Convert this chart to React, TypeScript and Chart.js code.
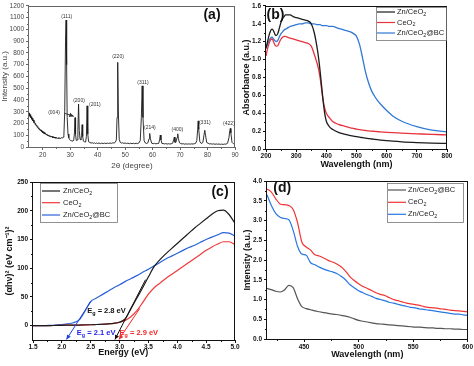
import React, { useEffect, useRef } from "react";
import { Chart, registerables } from "chart.js";

Chart.register(...registerables);

const FONT = "'Liberation Sans', Arial, Helvetica, sans-serif";

// ---------------- (a) XRD pattern ----------------
const xrdScan: [number, number][] = [
  [15.0,290],[15.2,262],[15.4,275],[15.6,250],[15.8,258],[16.0,236],[16.2,244],[16.4,222],[16.6,230],[16.8,208],
  [17.0,214],[17.2,192],[17.4,200],[17.6,180],[17.8,186],[18.0,168],[18.2,174],[18.4,156],[18.6,163],[18.8,146],
  [19.0,152],[19.2,138],[19.4,145],[19.6,130],[19.8,136],[20.0,122],[20.2,129],[20.4,116],[20.6,122],[20.8,110],
  [21.0,116],[21.2,104],[21.4,111],[21.6,99],[21.8,105],[22.0,95],[22.2,101],[22.4,90],[22.6,97],[22.8,87],
  [23.0,93],[23.2,84],[23.4,90],[23.6,80],[23.8,87],[24.0,78],[24.2,84],[24.4,76],[24.6,82],[24.8,74],
  [25.0,80],[25.3,72],[25.6,79],[25.9,71],[26.2,78],[26.5,72],[26.8,80],[27.1,74],[27.4,84],[27.7,100],
  [28.0,300],[28.3,900],[28.5,1080],[28.7,700],[28.9,250],[29.2,110],[29.5,78],[29.8,62],[30.2,55],[30.6,52],
  [31.0,50],[31.3,60],[31.55,120],[31.75,250],[31.95,110],[32.2,55],[32.5,60],[32.8,150],[33.05,365],[33.3,140],
  [33.6,65],[33.9,60],[34.15,100],[34.35,190],[34.55,90],[34.8,50],[35.2,45],[35.6,42],[35.9,90],[36.15,350],
  [36.4,110],[36.7,45],[37.2,38],[37.6,33],[38.0,37],[38.4,31],[38.8,35],[39.2,30],[39.6,34],[40.0,30],
  [40.5,34],[41.0,29],[41.5,33],[42.0,29],[42.5,33],[43.0,29],[43.5,33],[44.0,30],[44.5,34],[45.0,31],
  [45.5,35],[46.0,34],[46.4,40],[46.8,60],[47.05,250],[47.3,720],[47.55,280],[47.85,65],[48.2,40],[48.6,33],
  [49.0,36],[49.5,31],[50.0,34],[50.5,29],[51.0,33],[51.5,28],[52.0,32],[52.5,28],[53.0,32],[53.5,28],
  [54.0,32],[54.5,29],[55.0,34],[55.5,55],[55.9,250],[56.2,520],[56.5,250],[56.9,55],[57.3,35],[57.8,30],
  [58.3,36],[58.7,70],[58.95,115],[59.2,70],[59.7,32],[60.2,28],[60.7,31],[61.2,27],[61.7,30],[62.2,30],
  [62.55,60],[62.8,102],[63.05,60],[63.4,30],[63.8,30],[64.3,26],[64.8,29],[65.3,25],[65.8,28],[66.3,25],
  [66.8,28],[67.3,32],[67.65,60],[67.9,84],[68.15,40],[68.5,40],[68.9,80],[69.15,112],[69.4,70],[69.8,35],
  [70.2,30],[70.7,26],[71.2,28],[71.7,24],[72.2,27],[72.7,24],[73.2,27],[73.7,24],[74.2,27],[74.7,25],
  [75.2,28],[75.7,32],[76.1,55],[76.4,150],[76.6,222],[76.8,150],[77.2,45],[77.7,30],[78.3,38],[78.7,100],
  [79.0,142],[79.3,95],[79.7,38],[80.2,32],[80.7,26],[81.2,28],[81.7,24],[82.2,27],[82.7,23],[83.2,26],
  [83.7,23],[84.2,26],[84.7,22],[85.2,25],[85.7,22],[86.2,25],[86.7,24],[87.3,32],[87.8,80],[88.1,140],
  [88.3,158],[88.5,120],[88.9,40],[89.4,28],[90.0,26],
];
const xrdPeakLabels = ["(111)", "(004)", "(200)", "(201)", "(220)", "(311)", "(214)", "(400)", "(331)", "(422)"];
const xrdPeakLabelAngle = [28.7, 24.1, 33.2, 39.0, 47.4, 56.5, 59.0, 69.0, 79.0, 87.8];
const xrdPeakLabelHeight = [1108, 294, 392, 364, 767, 550, 164, 147, 206, 197];
const xrdTicksX = [20, 30, 40, 50, 60, 70, 80, 90];
const xrdTicksY = [0, 100, 200, 300, 400, 500, 600, 700, 800, 900, 1000, 1100, 1200];

// ---------------- (b) UV-vis absorbance ----------------
const uvWavelength = [200,205,210,215,220,225,230,235,240,245,250,255,260,265,270,280,290,300,310,320,330,340,350,360,370,375,380,385,390,395,400,410,420,440,460,480,490,500,510,520,530,540,550,560,570,580,600,620,650,700,750,800];
const uvZnCeO2 = [1.13,1.20,1.27,1.32,1.34,1.32,1.28,1.27,1.30,1.36,1.42,1.46,1.48,1.50,1.50,1.50,1.48,1.47,1.46,1.45,1.44,1.43,1.40,1.30,1.12,1.00,0.85,0.68,0.52,0.39,0.31,0.25,0.22,0.185,0.165,0.15,0.145,0.138,0.132,0.127,0.122,0.117,0.112,0.108,0.104,0.100,0.093,0.087,0.080,0.072,0.066,0.062];
const uvCeO2 = [1.04,1.12,1.18,1.22,1.23,1.20,1.16,1.15,1.16,1.20,1.23,1.25,1.26,1.26,1.25,1.24,1.23,1.22,1.21,1.20,1.19,1.18,1.15,1.06,0.95,0.88,0.78,0.65,0.53,0.45,0.40,0.35,0.31,0.275,0.255,0.237,0.230,0.222,0.216,0.211,0.207,0.203,0.200,0.197,0.194,0.191,0.186,0.182,0.177,0.170,0.163,0.158];
const uvZnCeO2BC = [1.12,1.17,1.21,1.24,1.25,1.23,1.21,1.20,1.22,1.26,1.29,1.31,1.33,1.34,1.35,1.37,1.38,1.39,1.40,1.40,1.41,1.41,1.40,1.40,1.39,1.39,1.39,1.38,1.38,1.38,1.38,1.37,1.37,1.35,1.33,1.31,1.29,1.26,1.17,1.02,0.86,0.74,0.65,0.59,0.54,0.50,0.43,0.37,0.31,0.25,0.21,0.19];
const uvLabels = ["Zn/CeO{2}", "CeO{2}", "Zn/CeO{2}@BC"];
const uvTicksX = [200, 300, 400, 500, 600, 700, 800];
const uvTicksY = [0, 0.2, 0.4, 0.6, 0.8, 1.0, 1.2, 1.4, 1.6];

// ---------------- (c) Tauc plot ----------------
const taucEnergy = [1.5,1.6,1.7,1.8,1.9,2.0,2.1,2.2,2.3,2.4,2.5,2.6,2.7,2.8,2.9,3.0,3.1,3.2,3.3,3.4,3.5,3.6,3.7,3.8,3.9,4.0,4.1,4.2,4.3,4.4,4.5,4.6,4.7,4.8,4.9,5.0];
const taucZnCeO2 = [0,0,0,0,0.5,0.5,1,1,1,1.5,1.5,2,2.5,3,4,6,12,30,48,66,85,103,115,125,134,143,152,161,170,178,186,194,200,201,193,178];
const taucCeO2 = [0,0,0,0,0.5,0.5,1,1,1,1,1.5,2,2,3,4,6,9,16,26,40,55,66,74,82,89,96,103,110,117,124,131,137,142,146,146,141];
const taucZnCeO2BC = [0,0,0,0.5,1,2,3,5,10,25,42,48,54,60,66,71,77,82,87,93,98,104,110,116,121,126,131,136,140,145,150,154,158,162,161,156];
const taucLabels = ["Zn/CeO{2}", "CeO{2}", "Zn/CeO{2}@BC"];
const taucBandGaps = ["E{g} = 2.8 eV", "E{g} = 2.1 eV", "E{g} = 2.9 eV"];
const taucTicksX = [1.5, 2.0, 2.5, 3.0, 3.5, 4.0, 4.5, 5.0];
const taucTicksY = [0, 50, 100, 150, 200, 250];

// ---------------- (d) PL spectra ----------------
const plWavelength = [416,420,424,428,432,436,440,444,448,452,456,460,464,468,472,476,480,484,488,492,496,500,504,508,512,516,520,524,528,532,536,540,544,548,552,556,560,564,568,572,576,580,584,588,592,596,600];
const plZnCeO2BC = [1.28,1.25,1.21,1.19,1.24,1.36,1.30,1.02,0.82,0.77,0.74,0.71,0.69,0.67,0.65,0.63,0.62,0.60,0.58,0.55,0.51,0.47,0.45,0.43,0.41,0.39,0.38,0.37,0.36,0.35,0.34,0.33,0.32,0.31,0.30,0.30,0.29,0.28,0.28,0.27,0.27,0.26,0.26,0.25,0.25,0.24,0.24];
const plCeO2 = [3.80,3.72,3.55,3.42,3.40,3.38,3.28,2.95,2.45,2.33,2.25,2.13,2.10,2.05,1.99,1.95,1.90,1.83,1.72,1.58,1.48,1.40,1.33,1.28,1.23,1.17,1.13,1.10,1.05,1.00,0.97,0.94,0.91,0.89,0.87,0.85,0.82,0.80,0.79,0.78,0.76,0.75,0.73,0.72,0.71,0.70,0.69];
const plZnCeO2 = [3.65,3.38,3.18,3.08,3.05,3.02,2.75,2.35,2.15,2.12,1.93,1.88,1.82,1.77,1.73,1.70,1.66,1.59,1.50,1.38,1.30,1.22,1.17,1.12,1.08,1.03,1.00,0.97,0.93,0.91,0.88,0.85,0.83,0.80,0.79,0.76,0.75,0.73,0.72,0.70,0.68,0.67,0.65,0.63,0.63,0.61,0.60];
const plLabels = ["Zn/CeO{2}@BC", "CeO{2}", "Zn/CeO{2}"];
const plTicksX = [450, 500, 550, 600];
const plTicksY = [0, 0.5, 1.0, 1.5, 2.0, 2.5, 3.0, 3.5, 4.0];

// ---------------- drawing helpers ----------------
function drawRich(ctx: CanvasRenderingContext2D, text: string, x: number, y: number, size: number, weight: string, color: string, align: "left" | "center" = "left") {
  const parts: { t: string; sub: boolean }[] = [];
  text.split(/(\{[^}]*\})/).forEach((p) => {
    if (!p) return;
    if (p.startsWith("{")) parts.push({ t: p.slice(1, -1), sub: true });
    else parts.push({ t: p, sub: false });
  });
  const sub = size * 0.72;
  const f = (s: number) => `${weight} ${s}px ${FONT}`;
  let total = 0;
  for (const p of parts) {
    ctx.font = f(p.sub ? sub : size);
    total += ctx.measureText(p.t).width;
  }
  let cx = align === "center" ? x - total / 2 : x;
  ctx.fillStyle = color;
  ctx.textAlign = "left";
  ctx.textBaseline = "middle";
  for (const p of parts) {
    ctx.font = f(p.sub ? sub : size);
    ctx.fillText(p.t, cx, p.sub ? y + size * 0.32 : y);
    cx += ctx.measureText(p.t).width;
  }
}

function drawFrame(chart: any, color: string) {
  const { ctx, chartArea: a } = chart;
  ctx.save();
  ctx.strokeStyle = color;
  ctx.lineWidth = 1;
  const l = Math.round(a.left) - 0.5, t = Math.round(a.top) + 0.5;
  const r = Math.round(a.right) - 0.5, b = Math.round(a.bottom) + 0.5;
  ctx.strokeRect(l, t, r - l, b - t);
  ctx.restore();
}

function drawMinor(chart: any, xMaj: number[], yMaj: number[], color: string) {
  const { ctx, chartArea: a, scales } = chart;
  const sx = scales.x, sy = scales.y;
  ctx.save();
  ctx.strokeStyle = color;
  ctx.lineWidth = 1;
  ctx.beginPath();
  const mids = (m: number[], lo: number, hi: number) => {
    const out: number[] = [];
    const step = m[1] - m[0];
    const v0 = m[0] - step / 2;
    if (v0 > lo) out.push(v0);
    for (let i = 0; i < m.length - 1; i++) out.push((m[i] + m[i + 1]) / 2);
    const v1 = m[m.length - 1] + step / 2;
    if (v1 < hi) out.push(v1);
    return out;
  };
  for (const v of mids(xMaj, sx.min, sx.max)) {
    const px = Math.round(sx.getPixelForValue(v)) + 0.5;
    ctx.moveTo(px, a.bottom);
    ctx.lineTo(px, a.bottom + 2);
  }
  for (const v of mids(yMaj, sy.min, sy.max)) {
    const py = Math.round(sy.getPixelForValue(v)) + 0.5;
    ctx.moveTo(a.left, py);
    ctx.lineTo(a.left - 2, py);
  }
  ctx.stroke();
  ctx.restore();
}

function drawLegend(ctx: CanvasRenderingContext2D, box: number[], rows: number[], line: number[], textX: number, labels: string[], colors: string[]) {
  ctx.save();
  ctx.fillStyle = "#ffffff";
  ctx.fillRect(box[0], box[1], box[2] - box[0], box[3] - box[1]);
  ctx.strokeStyle = "#777";
  ctx.lineWidth = 0.8;
  ctx.strokeRect(box[0] + 0.5, box[1] + 0.5, box[2] - box[0], box[3] - box[1]);
  labels.forEach((lab, i) => {
    ctx.strokeStyle = colors[i];
    ctx.lineWidth = 1.2;
    ctx.beginPath();
    ctx.moveTo(line[0], rows[i]);
    ctx.lineTo(line[1], rows[i]);
    ctx.stroke();
    drawRich(ctx, lab, textX, rows[i], 7.5, "normal", "#222");
  });
  ctx.restore();
}

function drawArrow(ctx: CanvasRenderingContext2D, x0: number, y0: number, x1: number, y1: number, color: string) {
  ctx.save();
  ctx.strokeStyle = color;
  ctx.fillStyle = color;
  ctx.lineWidth = 1;
  ctx.beginPath();
  ctx.moveTo(x0, y0);
  ctx.lineTo(x1, y1);
  ctx.stroke();
  const ang = Math.atan2(y1 - y0, x1 - x0);
  const h = 4.5, w = 2.2;
  ctx.beginPath();
  ctx.moveTo(x1, y1);
  ctx.lineTo(x1 - h * Math.cos(ang) + w * Math.sin(ang), y1 - h * Math.sin(ang) - w * Math.cos(ang));
  ctx.lineTo(x1 - h * Math.cos(ang) - w * Math.sin(ang), y1 - h * Math.sin(ang) + w * Math.cos(ang));
  ctx.closePath();
  ctx.fill();
  ctx.restore();
}

// ---------------- chart config builder ----------------
interface AxisSpec {
  min: number; max: number; ticks: number[]; fmt: (v: number) => string;
  title?: string; titlePad: number; size: number; tickPad: number;
}
interface PanelSpec {
  padding: { left: number; top: number; right: number; bottom: number };
  x: AxisSpec; y: AxisSpec;
  tickFont: any; titleFont: any; color: string; axisColor: string;
  datasets: any[];
  draw: (chart: any) => void;
}

function buildConfig(p: PanelSpec): any {
  const mk = (a: AxisSpec, horizontal: boolean) => ({
    type: "linear",
    min: a.min,
    max: a.max,
    afterBuildTicks: (s: any) => { s.ticks = a.ticks.map((v) => ({ value: v })); },
    afterFit: (s: any) => { if (horizontal) s.height = a.size; else s.width = a.size; },
    ticks: {
      font: p.tickFont, color: p.color, padding: a.tickPad, autoSkip: false,
      maxRotation: 0, minRotation: 0, callback: (v: number) => a.fmt(v),
    },
    grid: { display: true, drawOnChartArea: false, drawTicks: true, tickLength: 3, color: p.axisColor, lineWidth: 1 },
    border: { display: false },
    title: {
      display: !!a.title, text: a.title || "", font: p.titleFont, color: p.color,
      padding: horizontal ? { top: 0, bottom: a.titlePad } : { top: a.titlePad, bottom: 0 },
    },
  });
  return {
    type: "line",
    data: { datasets: p.datasets },
    options: {
      responsive: false,
      animation: false,
      events: [],
      layout: { padding: p.padding },
      plugins: { legend: { display: false }, tooltip: { enabled: false } },
      scales: { x: mk(p.x, true), y: mk(p.y, false) },
    },
    plugins: [{ id: "extras", afterDraw: (c: any) => p.draw(c) }],
  };
}

const line = (xs: number[], ys: number[], color: string, width: number, smooth = true) => ({
  data: xs.map((x, i) => ({ x, y: ys[i] })),
  borderColor: color,
  backgroundColor: color,
  borderWidth: width,
  pointRadius: 0,
  fill: false,
  cubicInterpolationMode: smooth ? "monotone" : "default",
  tension: 0,
});

const fmt0 = (v: number) => String(Math.round(v));
const fmt1 = (v: number) => v.toFixed(1);
const boldTick = { family: FONT, size: 6.5, weight: "bold" };
const boldTitle = { family: FONT, size: 9, weight: "bold" };

const COL_B = ["#1c1c1c", "#e8333d", "#2f78d4"];
const COL_C = ["#1c1c1c", "#ee3a3a", "#2a62d8"];
const COL_D = ["#555555", "#f03535", "#2878e0"];

function configA() {
  return buildConfig({
    padding: { left: 0, top: 3, right: 10, bottom: 0 },
    x: { min: 15, max: 90, ticks: xrdTicksX, fmt: fmt0, title: "2θ (degree)", titlePad: 4.2, size: 28, tickPad: 1 },
    y: { min: 0, max: 1200, ticks: xrdTicksY, fmt: fmt0, title: "Intensity (a.u.)", titlePad: 0, size: 29, tickPad: 2 },
    tickFont: { family: FONT, size: 6.5 },
    titleFont: { family: FONT, size: 8 },
    color: "#444",
    axisColor: "#666",
    datasets: [line(xrdScan.map((d) => d[0]), xrdScan.map((d) => d[1]), "#1a1a1a", 0.9, false)],
    draw: (chart) => {
      const { ctx, scales } = chart;
      drawFrame(chart, "#666");
      drawMinor(chart, xrdTicksX, xrdTicksY, "#666");
      ctx.save();
      xrdPeakLabels.forEach((lab, i) => {
        ctx.font = `5px ${FONT}`;
        ctx.fillStyle = "#333";
        ctx.textAlign = "center";
        ctx.textBaseline = "middle";
        ctx.fillText(lab, scales.x.getPixelForValue(xrdPeakLabelAngle[i]), scales.y.getPixelForValue(xrdPeakLabelHeight[i]));
      });
      ctx.restore();
      drawArrow(ctx, scales.x.getPixelForValue(28.0), scales.y.getPixelForValue(286), scales.x.getPixelForValue(31.3), scales.y.getPixelForValue(261), "#333");
      drawRich(ctx, "(a)", 212, 15, 14, "bold", "#111", "center");
    },
  });
}

function configB() {
  return buildConfig({
    padding: { left: 0, top: 4, right: 27, bottom: 0 },
    x: { min: 200, max: 800, ticks: uvTicksX, fmt: fmt0, title: "Wavelength (nm)", titlePad: 4.6, size: 26, tickPad: 0 },
    y: { min: 0, max: 1.6, ticks: uvTicksY, fmt: fmt1, title: "Absorbance (a.u.)", titlePad: 4.6, size: 29, tickPad: 2 },
    tickFont: boldTick,
    titleFont: boldTitle,
    color: "#111",
    axisColor: "#111",
    datasets: [
      line(uvWavelength, uvZnCeO2, COL_B[0], 1.3),
      line(uvWavelength, uvCeO2, COL_B[1], 1.3),
      line(uvWavelength, uvZnCeO2BC, COL_B[2], 1.3),
    ],
    draw: (chart) => {
      const { ctx } = chart;
      drawFrame(chart, "#111");
      drawMinor(chart, uvTicksX, uvTicksY, "#111");
      drawLegend(ctx, [139, 7, 209, 40], [12, 22.5, 33], [140, 158], 160, uvLabels, COL_B);
      drawRich(ctx, "(b)", 38.5, 15, 14, "bold", "#111", "center");
    },
  });
}

function configC() {
  return buildConfig({
    padding: { left: 0, top: 7, right: 10, bottom: 0 },
    x: { min: 1.5, max: 5.0, ticks: taucTicksX, fmt: fmt1, titlePad: 0, size: 26, tickPad: 0 },
    y: { min: -25, max: 250, ticks: taucTicksY, fmt: fmt0, title: "(αhν)² (eV cm⁻¹)²", titlePad: 4.6, size: 33, tickPad: 2 },
    tickFont: boldTick,
    titleFont: boldTitle,
    color: "#111",
    axisColor: "#111",
    datasets: [
      line(taucEnergy, taucZnCeO2, COL_C[0], 1.2),
      line(taucEnergy, taucCeO2, COL_C[1], 1.2),
      line(taucEnergy, taucZnCeO2BC, COL_C[2], 1.2),
    ],
    draw: (chart) => {
      const { ctx, scales } = chart;
      const px = (v: number) => scales.x.getPixelForValue(v);
      const py = (v: number) => scales.y.getPixelForValue(v);
      drawArrow(ctx, px(2.5), py(42), px(2.08), py(-24), "#2040e0");
      drawArrow(ctx, px(3.45), py(80), px(2.92), py(-24), "#111");
      drawArrow(ctx, px(3.35), py(30), px(2.99), py(-24), "#f02828");
      drawFrame(chart, "#111");
      drawMinor(chart, taucTicksX, taucTicksY, "#111");
      drawRich(ctx, taucBandGaps[0], px(2.44), py(25), 7.5, "bold", "#111");
      drawRich(ctx, taucBandGaps[1], px(2.26), py(-13), 7.5, "bold", "#2424e8");
      drawRich(ctx, taucBandGaps[2], px(3.0), py(-13), 7.5, "bold", "#f02828");
      drawLegend(ctx, [40, 8, 117, 47], [16, 27.7, 40], [42, 60], 63, taucLabels, COL_C);
      drawRich(ctx, "(c)", 220, 17, 14, "bold", "#111", "center");
      drawRich(ctx, "Energy (eV)", 123.3, 177.7, 9, "bold", "#111", "center");
    },
  });
}

function configD() {
  return buildConfig({
    padding: { left: 0, top: 6, right: 5, bottom: 0 },
    x: { min: 416, max: 600, ticks: plTicksX, fmt: fmt0, title: "Wavelength (nm)", titlePad: 5.6, size: 27, tickPad: 1 },
    y: { min: 0, max: 4.0, ticks: plTicksY, fmt: fmt1, title: "Intensity (a.u.)", titlePad: 4.9, size: 30, tickPad: 2 },
    tickFont: boldTick,
    titleFont: boldTitle,
    color: "#111",
    axisColor: "#111",
    datasets: [
      line(plWavelength, plZnCeO2BC, COL_D[0], 1.2),
      line(plWavelength, plCeO2, COL_D[1], 1.2),
      line(plWavelength, plZnCeO2, COL_D[2], 1.2),
    ],
    draw: (chart) => {
      const { ctx } = chart;
      drawFrame(chart, "#111");
      drawMinor(chart, plTicksX, plTicksY, "#111");
      drawLegend(ctx, [150, 8, 226, 47], [15, 27.3, 39.3], [151, 169], 171, plLabels, COL_D);
      drawRich(ctx, "(d)", 45.3, 13.3, 14, "bold", "#111", "center");
    },
  });
}

function Panel({ x, y, w, h, make }: { x: number; y: number; w: number; h: number; make: () => any }) {
  const ref = useRef<HTMLCanvasElement>(null);
  useEffect(() => {
    const chart = new Chart(ref.current as HTMLCanvasElement, make());
    return () => chart.destroy();
  }, [make]);
  return (
    <canvas
      ref={ref}
      width={w}
      height={h}
      style={{ position: "absolute", left: x, top: y, width: w, height: h }}
    />
  );
}

export default function App() {
  return (
    <div style={{ position: "absolute", left: 0, top: 0, width: 474, height: 366, background: "#fff", overflow: "hidden" }}>
      <Panel x={0} y={0} w={245} h={175} make={configA} />
      <Panel x={237} y={0} w={237} h={175} make={configB} />
      <Panel x={0} y={175} w={245} h={191} make={configC} />
      <Panel x={237} y={175} w={237} h={191} make={configD} />
    </div>
  );
}
